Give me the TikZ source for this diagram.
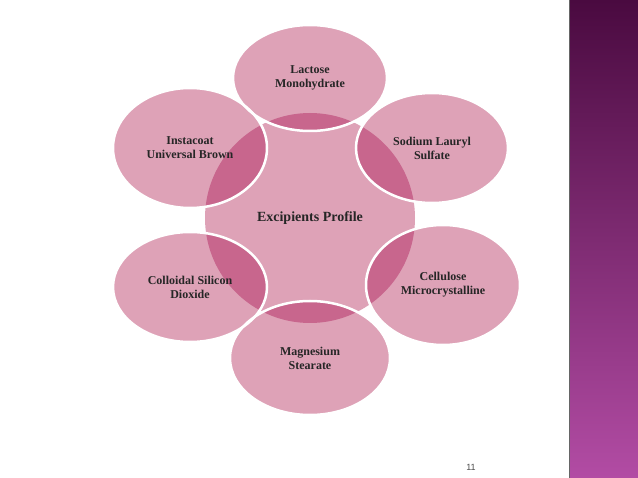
\documentclass[tikz,border=0pt]{standalone}
\usepackage{fontspec}
\setmainfont{Liberation Serif}
\setsansfont{Liberation Sans}
\begin{document}
\begin{tikzpicture}[x=1pt,y=-1pt,
  lab/.style={font=\bfseries\fontsize{12}{14}\selectfont,align=center,text=black!85},
  ell/.style={fill=pinkL,draw=white,line width=2.5pt}]
\definecolor{pinkL}{HTML}{DEA2B7}
\definecolor{pinkD}{HTML}{C8668D}
\definecolor{barTop}{HTML}{4A0A40}
\definecolor{barBot}{HTML}{B24CA4}
\useasboundingbox (0,0) rectangle (638,478);
\fill[white] (0,0) rectangle (638,478);
\shade[top color=barTop,bottom color=barBot] (569,0) rectangle (638,478);
\draw[black!60,line width=1pt] (569,0) -- (569,478);
\def\ells{{310/78/77/53},{432/148/76/55},{443/285/77/60},{310/358/80/57},{190/287/77/55},{190/148/77/60}}
\fill[pinkL] (310,218) circle (105);
\foreach \x/\y/\a/\b in \ells {\fill[pinkL] (\x,\y) ellipse ({\a} and {\b});}
\begin{scope}
\clip (310,218) circle (105);
\foreach \x/\y/\a/\b in \ells {\fill[pinkD] (\x,\y) ellipse ({\a} and {\b});}
\end{scope}
\foreach \x/\y/\a/\b in \ells {\draw[white,line width=2.5pt] (\x,\y) ellipse ({\a} and {\b});}
\node[lab,font=\bfseries\fontsize{14}{16}\selectfont] (c) at (310,218) {Excipients Profile};
\node[lab] (n1) at (310,78) {Lactose\\Monohydrate};
\node[lab] (n2) at (432,148) {Sodium Lauryl\\Sulfate};
\node[lab] (n3) at (443,285) {Cellulose\\Microcrystalline};
\node[lab] (n4) at (310,358) {Magnesium\\Stearate};
\node[lab] (n5) at (190,287) {Colloidal Silicon\\Dioxide};
\node[lab] (n6) at (190,148) {Instacoat\\Universal Brown};
\node[font=\sffamily\fontsize{9}{10}\selectfont,text=black!70] (pg) at (471,467) {11};
\end{tikzpicture}
\end{document}
